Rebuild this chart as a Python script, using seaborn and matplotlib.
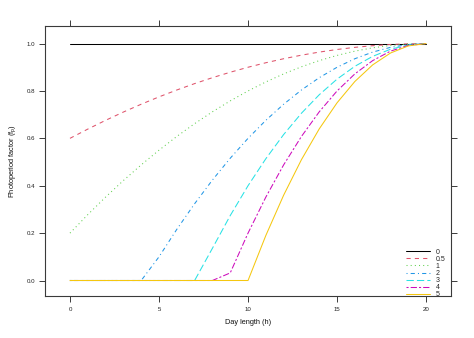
import matplotlib
matplotlib.use("Agg")
import matplotlib.pyplot as plt
import seaborn as sns
import pandas as pd
from matplotlib.lines import Line2D

day_length = list(range(0, 21))
sens_labels = ["0", "0.5", "1", "2", "3", "4", "5"]
f_s0 = [1.0] * 21
f_s05 = [0.6, 0.639, 0.676, 0.711, 0.744, 0.775, 0.804, 0.831, 0.856, 0.879, 0.9,
         0.919, 0.936, 0.951, 0.964, 0.975, 0.984, 0.991, 0.996, 0.999, 1.0]
f_s1 = [0.2, 0.278, 0.352, 0.422, 0.488, 0.55, 0.608, 0.662, 0.712, 0.758, 0.8,
        0.838, 0.872, 0.902, 0.928, 0.95, 0.968, 0.982, 0.992, 0.998, 1.0]
f_s2 = [0, 0, 0, 0, 0, 0.1, 0.216, 0.324, 0.424, 0.516, 0.6,
        0.676, 0.744, 0.804, 0.856, 0.9, 0.936, 0.964, 0.984, 0.996, 1.0]
f_s3 = [0, 0, 0, 0, 0, 0, 0, 0, 0.136, 0.274, 0.4,
        0.514, 0.616, 0.706, 0.784, 0.85, 0.904, 0.946, 0.976, 0.994, 1.0]
f_s4 = [0, 0, 0, 0, 0, 0, 0, 0, 0, 0.032, 0.2,
        0.352, 0.488, 0.608, 0.712, 0.8, 0.872, 0.928, 0.968, 0.992, 1.0]
f_s5 = [0, 0, 0, 0, 0, 0, 0, 0, 0, 0, 0,
        0.19, 0.36, 0.51, 0.64, 0.75, 0.84, 0.91, 0.96, 0.99, 1.0]
series = [f_s0, f_s05, f_s1, f_s2, f_s3, f_s4, f_s5]

x_ticks = [0, 5, 10, 15, 20]
y_ticks = [0.0, 0.2, 0.4, 0.6, 0.8, 1.0]

colors = ["black", "#DF536B", "#61D04F", "#2297E6", "#28E2E5", "#CD0BBC", "#F5C710"]
dash_styles = ["", (3, 3), (0.75, 2.25), (0.75, 2.25, 3, 2.25), (5.25, 2.25),
               (1.5, 1.5, 4.5, 1.5), ""]

rows = []
for lab, vals in zip(sens_labels, series):
    for d, v in zip(day_length, vals):
        rows.append({"day": d, "f": v, "s": lab})
df = pd.DataFrame(rows)

sns.set_style("ticks")
plt.rcParams["font.family"] = ["Liberation Sans", "DejaVu Sans"]
plt.rcParams["lines.scale_dashes"] = False

fig = plt.figure(figsize=(4.74, 3.38), dpi=100)
ax = fig.add_axes([0.0943, 0.1228, 0.9515 - 0.0943, 0.923 - 0.1228])

sns.lineplot(data=df, x="day", y="f", hue="s", style="s",
             hue_order=sens_labels, style_order=sens_labels,
             palette=dict(zip(sens_labels, colors)),
             dashes=dict(zip(sens_labels, dash_styles)),
             linewidth=0.75, ax=ax, legend=False)

ax.set_xlim(-1.42, 21.4)
ax.set_ylim(-0.0675, 1.074)
ax.set_xticks(x_ticks)
ax.set_xticklabels([str(t) for t in x_ticks])
ax.set_yticks(y_ticks)
ax.set_yticklabels([f"{t:.1f}" for t in y_ticks])

frame_col = "#3a3a3a"
for sp in ax.spines.values():
    sp.set_visible(True)
    sp.set_color(frame_col)
    sp.set_linewidth(0.8)
ax.tick_params(axis="both", which="both", direction="out", length=4.3, width=0.7,
               color=frame_col, labelsize=4.4, labelcolor="#222222",
               top=True, right=True, labeltop=False, labelright=False)
ax.tick_params(axis="x", pad=3.5)
ax.tick_params(axis="y", pad=2.5)

ax.set_xlabel("Day length (h)", fontsize=5.3, labelpad=5, color="#111111")
ax.set_ylabel("Photoperiod factor (f$_\\mathregular{p}$)", fontsize=5.3,
              labelpad=6, color="#111111")

handles = []
for c, ds in zip(colors, dash_styles):
    h = Line2D([0], [0], color=c, linewidth=0.75)
    if ds:
        h.set_dashes(ds)
    handles.append(h)
leg = ax.legend(handles, sens_labels, loc="lower right",
                bbox_to_anchor=(0.99, -0.012), frameon=False, fontsize=5.0,
                handlelength=3.4, handletextpad=0.9, labelspacing=0.02,
                borderpad=0.1, borderaxespad=0.1)

fig.savefig("out.png", dpi=100)
